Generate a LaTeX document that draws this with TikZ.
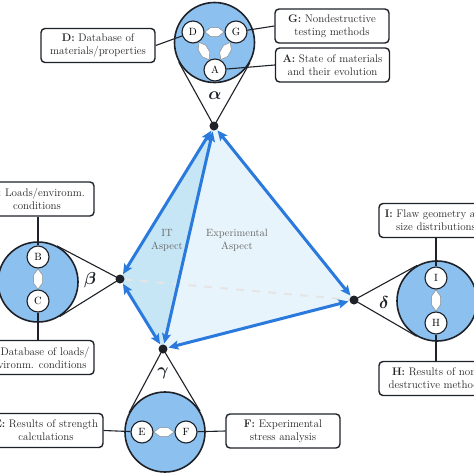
\documentclass[tikz,border=0pt]{standalone}
\usepackage{bm}
\usetikzlibrary{calc,arrows.meta}
\definecolor{circfill}{RGB}{140,192,238}
\definecolor{edgeblue}{RGB}{42,122,222}
\definecolor{itface}{RGB}{198,230,246}
\definecolor{exface}{RGB}{232,244,251}
\definecolor{darkline}{RGB}{30,34,40}
\pgfdeclarelayer{bg}
\pgfsetlayers{bg,main}
\tikzset{
 bigcirc/.style={circle, draw=darkline, line width=1.6pt, fill=circfill, minimum size=80pt, inner sep=0pt},
 smallcirc/.style={circle, draw=darkline, line width=1.1pt, fill=white, minimum size=22pt, inner sep=0pt, font=\fontsize{10.5}{12}\selectfont},
 infobox/.style={draw=darkline, line width=1.4pt, rounded corners=4pt, fill=white, minimum width=114pt, minimum height=34pt, align=center, inner sep=1pt, font=\fontsize{11}{13}\selectfont, text=black!85},
 vdot/.style={circle, fill=darkline, minimum size=9pt, inner sep=0pt},
 tangline/.style={draw=darkline, line width=1.1pt},
 conn/.style={draw=darkline, line width=1.1pt},
 tedge/.style={draw=edgeblue, line width=3pt, {Stealth[length=10pt,width=9pt,inset=2pt]}-{Stealth[length=10pt,width=9pt,inset=2pt]}, shorten >=1pt, shorten <=1pt},
 greek/.style={font=\fontsize{19}{22}\selectfont, text=darkline},
 aspect/.style={align=center, text=black!60, font=\fontsize{10.5}{13}\selectfont},
 hexlinkstyle/.style={draw=black!45, line width=0.5pt, fill=white},
 hiddenedge/.style={draw=black!10, line width=2pt, dash pattern=on 8pt off 8pt}
}
\newcommand{\hexlink}[2]{%
 \path ($(#1.center)!12pt!(#2.center)$) coordinate (hp1) ($(#2.center)!12pt!(#1.center)$) coordinate (hp2);
 \path ($(hp1)!0.3!(hp2)$) coordinate (hq1) ($(hp1)!0.7!(hp2)$) coordinate (hq2);
 \draw[hexlinkstyle] (hp1) -- ($(hq1)!4.5pt!90:(hp2)$) -- ($(hq2)!4.5pt!-90:(hp1)$) -- (hp2) -- ($(hq2)!4.5pt!90:(hp1)$) -- ($(hq1)!4.5pt!-90:(hp2)$) -- cycle;
}
\begin{document}
\begin{tikzpicture}[x=1pt,y=-1pt]
\useasboundingbox (0,0) rectangle (474,474);
\clip (0,0) rectangle (474,474);
% vertices
\node[vdot] (dA) at (214,126) {};
\node[vdot] (dB) at (120,279) {};
\node[vdot] (dG) at (163,349) {};
\node[vdot] (dD) at (354,300) {};
% big circles
\node[bigcirc] (cA) at (214.5,42.5) {};
\node[bigcirc] (cB) at (38,282) {};
\node[bigcirc] (cG) at (165,432) {};
\node[bigcirc] (cD) at (437,301) {};
% small circles
\node[smallcirc] (nD) at (193,32) {D};
\node[smallcirc] (nG) at (236,32) {G};
\node[smallcirc] (nA) at (215,70) {A};
\node[smallcirc] (nB) at (38,257) {B};
\node[smallcirc] (nC) at (38,301) {C};
\node[smallcirc] (nE) at (142,432) {E};
\node[smallcirc] (nF) at (186,432) {F};
\node[smallcirc] (nI) at (436,278) {I};
\node[smallcirc] (nH) at (436,323) {H};
% boxes
\node[infobox] (bD) at (98,45.5) {\textbf{D:} Database of\\materials/properties};
\node[infobox] (bG) at (332,26) {\textbf{G:} Nondestructive\\testing methods};
\node[infobox] (bA) at (332.5,65) {\textbf{A:} State of materials\\and their evolution};
\node[infobox] (bB) at (37,199) {\textbf{B:} Loads/environm.\\conditions};
\node[infobox] (bC) at (37,357.5) {\textbf{C:} Database of loads/\\environm. conditions};
\node[infobox] (bE) at (46,430.5) {\textbf{E:} Results of strength\\calculations};
\node[infobox] (bF) at (283,431) {\textbf{F:} Experimental\\stress analysis};
\node[infobox] (bI) at (436,220.5) {\textbf{I:} Flaw geometry and\\size distributions};
\node[infobox] (bH) at (436,378.5) {\textbf{H:} Results of non-\\destructive methods};
% greek labels
\node[greek] (gA) at (215,96) {$\bm{\alpha}$};
\node[greek] (gB) at (90,280) {$\bm{\beta}$};
\node[greek] (gG) at (163,373) {$\bm{\gamma}$};
\node[greek] (gD) at (384,302) {$\bm{\delta}$};
% aspect labels
\node[aspect] (lIT) at (167,240) {IT\\Aspect};
\node[aspect] (lEx) at (237,240) {Experimental\\Aspect};
% connectors from boxes
\draw[conn] (bD.east) -- (nD);
\draw[conn] (bG.west) -- (nG);
\draw[conn] (bA.west) -- (nA);
\draw[conn] (bB.south -| nB) -- (nB);
\draw[conn] (nC) -- (bC.north -| nC);
\draw[conn] (bE.east) -- (nE);
\draw[conn] (nF) -- (bF.west);
\draw[conn] (bI.south -| nI) -- (nI);
\draw[conn] (nH) -- (bH.north -| nH);
% hex links
\hexlink{nD}{nG}
\hexlink{nD}{nA}
\hexlink{nG}{nA}
\hexlink{nB}{nC}
\hexlink{nE}{nF}
\hexlink{nI}{nH}
\begin{pgfonlayer}{bg}
 \fill[white] (0,0) rectangle (474,474);
 \fill[itface] (dA.center) -- (dB.center) -- (dG.center) -- cycle;
 \fill[exface] (dA.center) -- (dG.center) -- (dD.center) -- cycle;
 \draw[hiddenedge] (dB) -- (dD);
 \draw[tedge] (dA) -- (dB);
 \draw[tedge] (dA) -- (dG);
 \draw[tedge] (dA) -- (dD);
 \draw[tedge] (dB) -- (dG);
 \draw[tedge] (dG) -- (dD);
 \draw[tangline] (tangent cs:node=cA,point={(dA.center)},solution=1) -- (dA.center) -- (tangent cs:node=cA,point={(dA.center)},solution=2);
 \draw[tangline] (tangent cs:node=cB,point={(dB.center)},solution=1) -- (dB.center) -- (tangent cs:node=cB,point={(dB.center)},solution=2);
 \draw[tangline] (tangent cs:node=cG,point={(dG.center)},solution=1) -- (dG.center) -- (tangent cs:node=cG,point={(dG.center)},solution=2);
 \draw[tangline] (tangent cs:node=cD,point={(dD.center)},solution=1) -- (dD.center) -- (tangent cs:node=cD,point={(dD.center)},solution=2);
\end{pgfonlayer}
\end{tikzpicture}
\end{document}
